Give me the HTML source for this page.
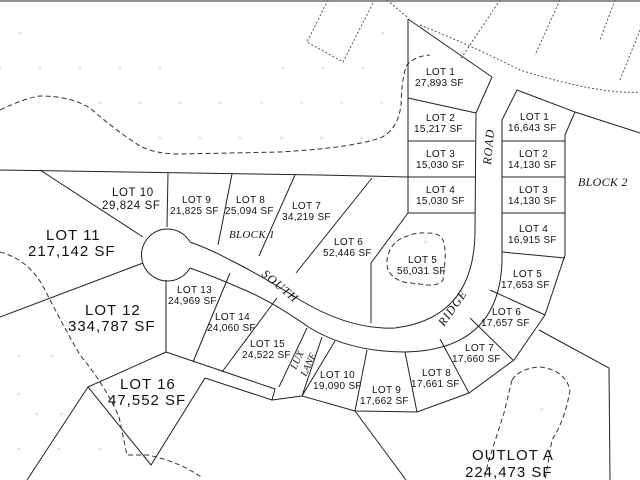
<!DOCTYPE html>
<html><head><meta charset="utf-8"><style>
html,body{margin:0;padding:0;background:#fff;}
svg{display:block}
text{font-family:"Liberation Sans",sans-serif;fill:#111;}
.s{font-size:10px;letter-spacing:0.3px}
.m{font-size:11.5px;letter-spacing:0.6px}
.b{font-size:15px;letter-spacing:1px}
.i{font-style:italic;font-family:"Liberation Serif",serif}
.t text{fill:#bbb;font-size:7px}
</style></head><body>
<svg width="640" height="480" viewBox="0 0 640 480" xmlns="http://www.w3.org/2000/svg">
<g fill="none" stroke="#222" stroke-width="1">
<line x1="0" y1="1" x2="640" y2="1"/>
<polyline points="0,170 320,175 408,177"/>
<polyline points="408,19 492,77 476,113 475,230"/>
<line x1="408" y1="19" x2="408" y2="213"/>
<line x1="408" y1="98" x2="476" y2="113"/>
<line x1="408" y1="141" x2="475" y2="141"/>
<line x1="408" y1="177" x2="475" y2="177"/>
<line x1="408" y1="213" x2="475" y2="213"/>
<polyline points="408,213 371,263 371,323"/>
<path d="M475,230 Q475,318 395,328 Q350,330 300,300 Q255,272 230,260 Q212,250 190,242"/>
<path d="M502,120 L502,260 Q500,350 405,352 Q350,352 310,328 Q270,300 240,288 Q215,277 190,268"/>
<path d="M190,242 A26,26 0 1 0 190,268"/>
<polyline points="502,120 517,90 575,112 565,135 565,255 545,315"/>
<line x1="575" y1="112" x2="640" y2="133"/>
<line x1="502" y1="141" x2="565" y2="141"/>
<line x1="502" y1="177" x2="565" y2="177"/>
<line x1="502" y1="213" x2="565" y2="213"/>
<line x1="502" y1="252" x2="565" y2="258"/>
<line x1="490" y1="290" x2="545" y2="315"/>
<line x1="470" y1="318" x2="513" y2="360"/>
<line x1="440" y1="339" x2="469" y2="393"/>
<line x1="405" y1="352" x2="417" y2="412"/>
<line x1="367" y1="350" x2="355" y2="411"/>
<polyline points="545,315 514,360 469,393 417,412 355,411 302,396 335,341"/>
<polyline points="539,330 609,368 610,480"/>
<line x1="40" y1="170" x2="143" y2="237"/>
<line x1="168" y1="173" x2="167" y2="227"/>
<line x1="232" y1="174" x2="218" y2="245"/>
<line x1="295" y1="175" x2="259" y2="256"/>
<line x1="372" y1="178" x2="296" y2="273"/>
<line x1="0" y1="317" x2="143" y2="263"/>
<line x1="166" y1="280" x2="166" y2="352"/>
<line x1="230" y1="273" x2="193" y2="362"/>
<line x1="277" y1="298" x2="222" y2="372"/>
<line x1="307" y1="328" x2="279" y2="387"/>
<line x1="322" y1="337" x2="302" y2="396"/>
<polyline points="166,352 275,389 272,400 302,396"/>
<polyline points="166,352 88,387 151,465 205,378 272,400"/>
<line x1="88" y1="387" x2="27" y2="480"/>
<line x1="355" y1="411" x2="406" y2="480"/>
</g>
<g fill="none" stroke="#333" stroke-width="1" stroke-dasharray="5,3">
<path d="M0,110 Q25,98 40,96 Q70,96 90,108 Q115,130 140,146 Q155,154 180,154 L280,152 Q350,148 380,138 Q398,130 401,105 Q402,75 407,65 Q415,56 430,55"/>
<path d="M0,252 Q30,260 45,290 Q60,320 80,355 Q105,385 119,417 L127,455 L148,455 Q180,462 201,477"/>
<path d="M512,380 Q520,368 540,367 Q565,370 570,390 Q565,420 552,440 L545,480"/>
<path d="M512,380 L504,413 L488,463 L484,480"/>
<path d="M388,270 Q385,260 390,250 Q395,240 405,237 Q415,232 428,233 Q440,233 443,240 Q446,250 445,260 L443,280 Q438,286 427,285 L403,282 Q392,278 388,270Z"/>
</g>
<g fill="none" stroke="#555" stroke-width="1" stroke-dasharray="2,2">
<path d="M328,0 L307,42 L343,62 L373,3"/>
<path d="M387,0 L407,17"/>
<path d="M420,25 Q470,45 520,70 Q600,95 640,92"/>
<path d="M500,0 L460,60"/>
<path d="M560,0 L535,55"/>
<path d="M615,0 L600,40"/>
<path d="M640,30 L620,80"/>
</g>
<g class="t">
<text x="18" y="37">^</text>
<text x="-2" y="72">^</text><text x="38" y="72">^</text><text x="78" y="72">^</text><text x="118" y="72">^</text><text x="158" y="72">^</text><text x="281" y="72">^</text><text x="321" y="72">^</text><text x="361" y="72">^</text><text x="381" y="37">^</text>
<text x="98" y="107">^</text><text x="138" y="107">^</text><text x="178" y="107">^</text><text x="218" y="107">^</text><text x="260" y="107">^</text><text x="300" y="107">^</text><text x="340" y="107">^</text><text x="380" y="107">^</text>
<text x="158" y="142">^</text><text x="198" y="142">^</text><text x="238" y="142">^</text><text x="280" y="142">^</text><text x="320" y="142">^</text><text x="360" y="142">^</text>
<text x="17" y="360">^</text><text x="50" y="360">^</text><text x="17" y="398">^</text><text x="35" y="418">^</text><text x="60" y="418">^</text>
<text x="17" y="453">^</text><text x="57" y="453">^</text><text x="98" y="453">^</text><text x="540" y="413">^</text><text x="424" y="246">^</text>
</g>
<text class="s" x="426" y="75">LOT 1</text><text class="s" x="415" y="86">27,893 SF</text>
<text class="s" x="426" y="121">LOT 2</text><text class="s" x="414" y="132">15,217 SF</text>
<text class="s" x="426" y="157">LOT 3</text><text class="s" x="416" y="168">15,030 SF</text>
<text class="s" x="426" y="193">LOT 4</text><text class="s" x="416" y="204">15,030 SF</text>
<text class="s" x="408" y="263">LOT 5</text><text class="s" x="397" y="274">56,031 SF</text>
<text class="s" x="520" y="120">LOT 1</text><text class="s" x="508" y="131">16,643 SF</text>
<text class="s" x="519" y="157">LOT 2</text><text class="s" x="508" y="168">14,130 SF</text>
<text class="s" x="519" y="193">LOT 3</text><text class="s" x="508" y="204">14,130 SF</text>
<text class="s" x="519" y="232">LOT 4</text><text class="s" x="508" y="243">16,915 SF</text>
<text class="s" x="513" y="277">LOT 5</text><text class="s" x="501" y="288">17,653 SF</text>
<text class="s" x="492" y="315">LOT 6</text><text class="s" x="481" y="326">17,657 SF</text>
<text class="s" x="465" y="351">LOT 7</text><text class="s" x="452" y="362">17,660 SF</text>
<text class="s" x="422" y="376">LOT 8</text><text class="s" x="411" y="387">17,661 SF</text>
<text class="s" x="372" y="393">LOT 9</text><text class="s" x="360" y="404">17,662 SF</text>
<text class="s" x="320" y="378">LOT 10</text><text class="s" x="313" y="389">19,090 SF</text>
<text class="s i" x="578" y="186" style="font-size:12px">BLOCK 2</text>
<text class="m" x="112" y="196">LOT 10</text><text class="m" x="102" y="209">29,824 SF</text>
<text class="s" x="182" y="203">LOT 9</text><text class="s" x="170" y="214">21,825 SF</text>
<text class="s" x="236" y="203">LOT 8</text><text class="s" x="225" y="214">25,094 SF</text>
<text class="s" x="292" y="209">LOT 7</text><text class="s" x="282" y="220">34,219 SF</text>
<text class="s" x="334" y="245">LOT 6</text><text class="s" x="323" y="256">52,446 SF</text>
<text class="s i" x="229" y="238" style="font-size:11px">BLOCK 1</text>
<text class="b" x="46" y="240">LOT 11</text><text class="b" x="28" y="256">217,142 SF</text>
<text class="b" x="85" y="315">LOT 12</text><text class="b" x="68" y="331">334,787 SF</text>
<text class="s" x="177" y="293">LOT 13</text><text class="s" x="168" y="304">24,969 SF</text>
<text class="s" x="215" y="320">LOT 14</text><text class="s" x="207" y="331">24,060 SF</text>
<text class="s" x="250" y="347">LOT 15</text><text class="s" x="242" y="358">24,522 SF</text>
<text class="b" x="120" y="389">LOT 16</text><text class="b" x="108" y="405">47,552 SF</text>
<text class="b" x="472" y="460">OUTLOT A</text><text class="b" x="465" y="477">224,473 SF</text>
<text class="i" style="font-size:12px;letter-spacing:1px" transform="translate(491,165) rotate(-85)">ROAD</text>
<text class="i" style="font-size:12px;letter-spacing:1px" transform="translate(261,275) rotate(40)">SOUTH</text>
<text class="i" style="font-size:12px;letter-spacing:1px" transform="translate(444,327) rotate(-55)">RIDGE</text>
<text class="i" style="font-size:10px" transform="translate(296,370) rotate(-65)">LUX</text>
<text class="i" style="font-size:10px" transform="translate(306,377) rotate(-65)">LANE</text>
</svg>
</body></html>
